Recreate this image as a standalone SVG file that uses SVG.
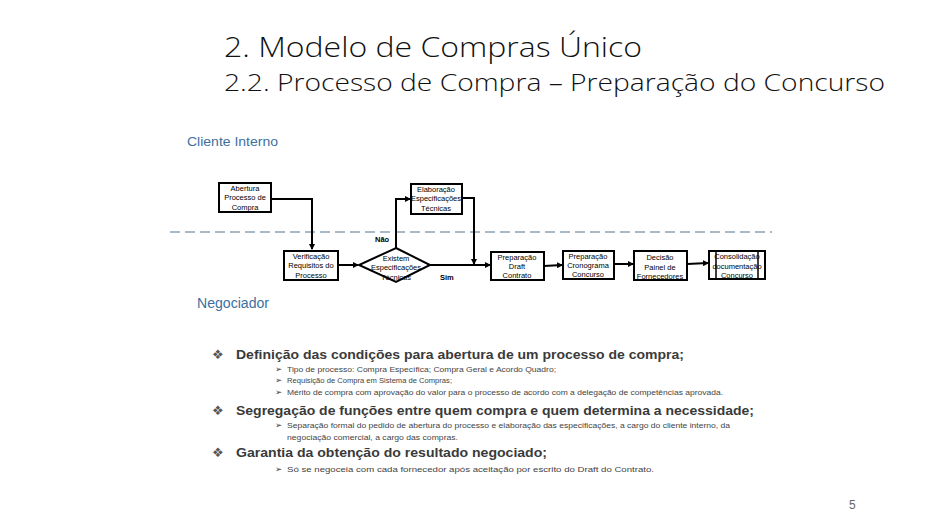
<svg xmlns="http://www.w3.org/2000/svg" width="941" height="529" viewBox="0 0 941 529">
<style>
.t1{font-family:"Open Sans","Liberation Sans",sans-serif;font-weight:300;fill:#111}
.lane{font-family:"Liberation Sans",Arial,sans-serif;fill:#3d6f9f}
.box{fill:#fff;stroke:#000;stroke-width:2}
.bt{font-family:"Liberation Sans",Arial,sans-serif;font-size:7.5px;fill:#000;text-anchor:middle}
.lbl{font-family:"Liberation Sans",Arial,sans-serif;font-size:7.5px;fill:#000;font-weight:bold}
.con{fill:none;stroke:#000;stroke-width:2}
.h{font-family:"Liberation Sans",Arial,sans-serif;font-size:13px;font-weight:bold;fill:#3a3a3a}
.s{font-family:"Liberation Sans",Arial,sans-serif;font-size:7.5px;fill:#444}
.bul{font-family:"DejaVu Sans",sans-serif;font-size:13px;fill:#555}
.sb{font-family:"DejaVu Sans",sans-serif;font-size:8.5px;fill:#444}
</style>
<defs>
<marker id="ah" markerWidth="6" markerHeight="6" refX="5" refY="3" orient="auto" markerUnits="userSpaceOnUse">
<path d="M0,0 L6,3 L0,6 z" fill="#000"/>
</marker>
</defs>
<rect width="941" height="529" fill="#fff"/>
<text class="t1" x="224" y="57" font-size="27" textLength="418" lengthAdjust="spacingAndGlyphs">2. Modelo de Compras Único</text>
<text class="t1" x="224" y="91" font-size="23.5" textLength="661" lengthAdjust="spacingAndGlyphs">2.2. Processo de Compra – Preparação do Concurso</text>
<text class="lane" x="187" y="146" font-size="13" textLength="91" lengthAdjust="spacingAndGlyphs">Cliente Interno</text>
<text class="lane" x="197" y="308" font-size="14" textLength="72" lengthAdjust="spacingAndGlyphs">Negociador</text>
<line x1="170" y1="232" x2="772" y2="232" stroke="#8fa3b5" stroke-width="1.5" stroke-dasharray="10,5"/>
<g id="connectors">
<polyline class="con" points="271,199 312,199 312,249" marker-end="url(#ah)"/>
<polyline class="con" points="338,265 358,265" marker-end="url(#ah)"/>
<polyline class="con" points="396,248 396,199 410,199" marker-end="url(#ah)"/>
<polyline class="con" points="430,265 490,265" marker-end="url(#ah)"/>
<polyline class="con" points="462,198 474,198 474,264" marker-end="url(#ah)"/>
<polyline class="con" points="544,266 562,265" marker-end="url(#ah)"/>
<polyline class="con" points="614,264 633,264" marker-end="url(#ah)"/>
<polyline class="con" points="687,264 708,263" marker-end="url(#ah)"/>
<text class="lbl" x="375" y="242">Não</text>
<text class="lbl" x="440" y="280">Sim</text>
</g>
<g id="abertura">
<rect class="box" x="219" y="183" width="52" height="29"/>
<text class="bt" x="245" y="191">Abertura</text>
<text class="bt" x="245" y="200">Processo de</text>
<text class="bt" x="245" y="210">Compra</text>
</g>
<g id="elaboracao">
<rect class="box" x="411" y="184" width="51" height="30"/>
<text class="bt" x="436" y="192">Elaboração</text>
<text class="bt" x="436" y="201">Especificações</text>
<text class="bt" x="436" y="211">Técnicas</text>
</g>
<g id="verificacao">
<rect class="box" x="284" y="251" width="54" height="29"/>
<text class="bt" x="311" y="259">Verificação</text>
<text class="bt" x="311" y="268">Requisitos do</text>
<text class="bt" x="311" y="278">Processo</text>
</g>
<g id="existem">
<polygon class="box" points="396,248 430,265 396,282 359,265"/>
<text class="bt" x="396" y="261">Existem</text>
<text class="bt" x="396" y="270">Especificações</text>
<text class="bt" x="396" y="280">Técnicas</text>
</g>
<g id="draft">
<rect class="box" x="491" y="252" width="53" height="28"/>
<text class="bt" x="517" y="260">Preparação</text>
<text class="bt" x="517" y="269">Draft</text>
<text class="bt" x="517" y="278">Contrato</text>
</g>
<g id="cronograma">
<rect class="box" x="563" y="251" width="51" height="28"/>
<text class="bt" x="588" y="259">Preparação</text>
<text class="bt" x="588" y="268">Cronograma</text>
<text class="bt" x="588" y="277">Concurso</text>
</g>
<g id="decisao">
<rect class="box" x="634" y="251" width="53" height="29"/>
<text class="bt" x="660" y="260">Decisão</text>
<text class="bt" x="660" y="270">Painel de</text>
<text class="bt" x="660" y="279">Fornecedores</text>
</g>
<g id="consolidacao">
<rect class="box" x="709" y="251" width="56" height="28"/>
<line x1="716" y1="251" x2="716" y2="279" stroke="#000" stroke-width="1.5"/>
<line x1="758" y1="251" x2="758" y2="279" stroke="#000" stroke-width="1.5"/>
<text class="bt" x="737" y="259">Consolidação</text>
<text class="bt" x="737" y="269">documentação</text>
<text class="bt" x="737" y="278">Concurso</text>
</g>
<text class="bul" x="212" y="359">❖</text>
<text class="h" x="236" y="359" textLength="448" lengthAdjust="spacingAndGlyphs">Definição das condições para abertura de um processo de compra;</text>
<text class="sb" x="275" y="372">➢</text>
<text class="s" x="287" y="372" textLength="269" lengthAdjust="spacingAndGlyphs">Tipo de processo: Compra Específica; Compra Geral e Acordo Quadro;</text>
<text class="sb" x="275" y="383">➢</text>
<text class="s" x="287" y="383" textLength="165" lengthAdjust="spacingAndGlyphs">Requisição de Compra em Sistema de Compras;</text>
<text class="sb" x="275" y="395">➢</text>
<text class="s" x="287" y="395" textLength="436" lengthAdjust="spacingAndGlyphs">Mérito de compra com aprovação do valor para o processo de acordo com a delegação de competências aprovada.</text>
<text class="bul" x="212" y="415">❖</text>
<text class="h" x="236" y="415" textLength="518" lengthAdjust="spacingAndGlyphs">Segregação de funções entre quem compra e quem determina a necessidade;</text>
<text class="sb" x="275" y="428">➢</text>
<text class="s" x="287" y="428" textLength="443" lengthAdjust="spacingAndGlyphs">Separação formal do pedido de abertura do processo e elaboração das especificações, a cargo do cliente interno, da</text>
<text class="s" x="287" y="440" textLength="171" lengthAdjust="spacingAndGlyphs">negociação comercial, a cargo das compras.</text>
<text class="bul" x="212" y="457">❖</text>
<text class="h" x="236" y="457" textLength="311" lengthAdjust="spacingAndGlyphs">Garantia da obtenção do resultado negociado;</text>
<text class="sb" x="275" y="472">➢</text>
<text class="s" x="287" y="472" textLength="367" lengthAdjust="spacingAndGlyphs">Só se negoceia com cada fornecedor após aceitação por escrito do Draft do Contrato.</text>
<text x="849" y="509" font-family="Liberation Sans,Arial,sans-serif" font-size="12" fill="#666">5</text>
</svg>
